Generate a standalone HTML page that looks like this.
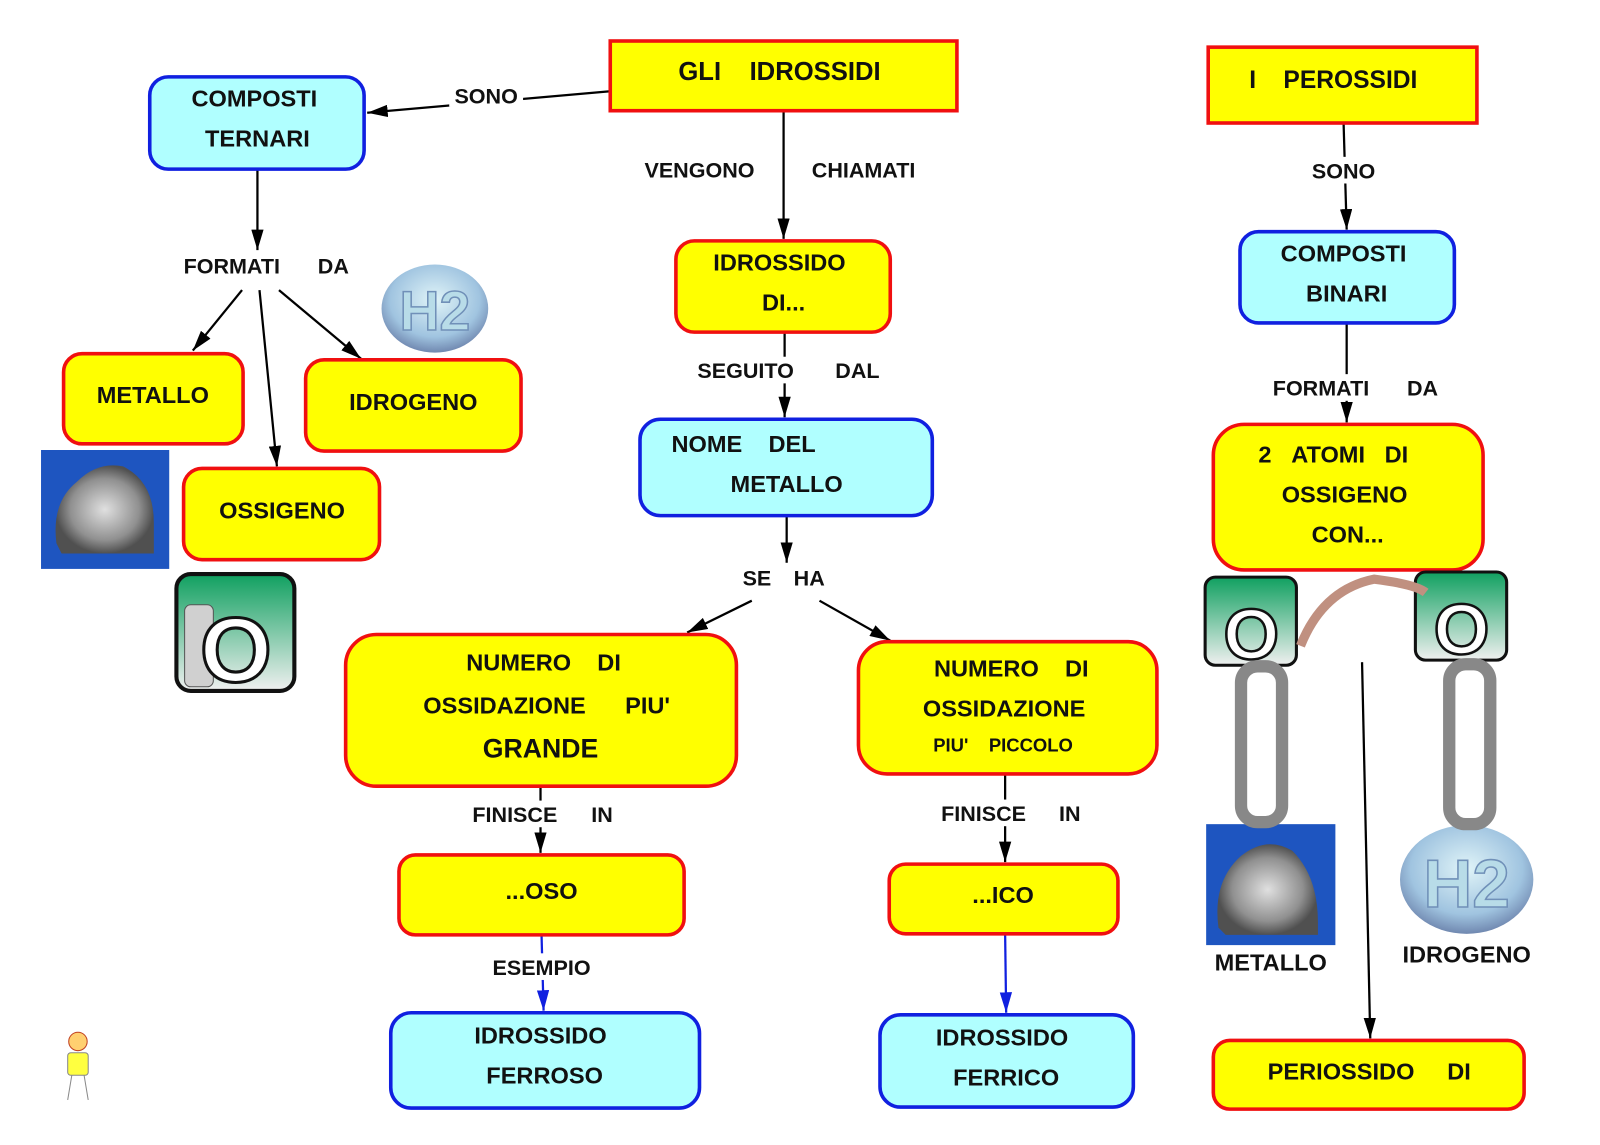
<!DOCTYPE html>
<html><head><meta charset="utf-8"><style>
html,body{margin:0;padding:0;background:#fff;}
svg{display:block;}
text{font-family:"Liberation Sans",sans-serif;font-weight:bold;fill:#111;text-anchor:middle;}
.y{fill:#ffff00;stroke:#f01010;stroke-width:3.5;}
.c{fill:#b0ffff;stroke:#1020e0;stroke-width:3.5;}
.l{stroke:#000;stroke-width:2.2;fill:none;}
.b{stroke:#1020e0;stroke-width:2.2;fill:none;}
</style></head><body>
<svg width="1600" height="1145" viewBox="0 0 1560 1117" preserveAspectRatio="none">
<defs>
<marker id="a" viewBox="0 0 20 12" refX="20" refY="6" markerWidth="20" markerHeight="12" markerUnits="userSpaceOnUse" orient="auto"><path d="M0,0 L20,6 L0,12z" fill="#000"/></marker>
<marker id="ab" viewBox="0 0 20 12" refX="20" refY="6" markerWidth="20" markerHeight="12" markerUnits="userSpaceOnUse" orient="auto"><path d="M0,0 L20,6 L0,12z" fill="#1020e0"/></marker>
<linearGradient id="g" x1="0" y1="0" x2="0" y2="1"><stop offset="0" stop-color="#10a060"/><stop offset="1" stop-color="#f0f0f0"/></linearGradient>
<radialGradient id="h" cx="0.5" cy="0.4" r="0.6"><stop offset="0" stop-color="#e0f4f8"/><stop offset="0.7" stop-color="#a0c4e0"/><stop offset="1" stop-color="#7088b0"/></radialGradient>
<radialGradient id="m" cx="0.5" cy="0.5" r="0.5"><stop offset="0" stop-color="#e0e0e0"/><stop offset="0.7" stop-color="#909090"/><stop offset="1" stop-color="#505050"/></radialGradient>
</defs>
<g class="l">
<line x1="595" y1="89" x2="358" y2="110" marker-end="url(#a)"/>
<line x1="764" y1="108" x2="764" y2="233" marker-end="url(#a)"/>
<line x1="251" y1="165" x2="251" y2="244" marker-end="url(#a)"/>
<line x1="236" y1="283" x2="188" y2="342" marker-end="url(#a)"/>
<line x1="253" y1="283" x2="270" y2="455" marker-end="url(#a)"/>
<line x1="272" y1="283" x2="352" y2="350" marker-end="url(#a)"/>
<line x1="765" y1="324" x2="765" y2="407" marker-end="url(#a)"/>
<line x1="767" y1="503" x2="767" y2="549" marker-end="url(#a)"/>
<line x1="733" y1="586" x2="670" y2="617" marker-end="url(#a)"/>
<line x1="799" y1="586" x2="868" y2="625" marker-end="url(#a)"/>
<line x1="527" y1="767" x2="527" y2="832" marker-end="url(#a)"/>
<line x1="980" y1="755" x2="980" y2="841" marker-end="url(#a)"/>
<line x1="1310" y1="120" x2="1313" y2="224" marker-end="url(#a)"/>
<line x1="1313" y1="315" x2="1313" y2="412" marker-end="url(#a)"/>
<line x1="1328" y1="646" x2="1336" y2="1013" marker-end="url(#a)"/>
</g>
<g class="b">
<line x1="528" y1="912" x2="530" y2="986" marker-end="url(#ab)"/>
<line x1="980" y1="911" x2="981" y2="988" marker-end="url(#ab)"/>
</g>
<g fill="#fff">
<rect x="438" y="82" width="72" height="22"/><rect x="612" y="152" width="140" height="26"/><rect x="780" y="152" width="120" height="26"/>
<rect x="170" y="246" width="180" height="26"/><rect x="670" y="348" width="195" height="26"/><rect x="716" y="550" width="90" height="26"/>
<rect x="450" y="781" width="150" height="26"/><rect x="908" y="780" width="145" height="26"/><rect x="472" y="930" width="110" height="26"/>
<rect x="1272" y="153" width="76" height="26"/><rect x="1232" y="365" width="175" height="26"/>
</g>
<g font-size="21">
<text x="474" y="101">SONO</text>
<text x="682" y="173">VENGONO</text><text x="842" y="173">CHIAMATI</text>
<text x="226" y="267">FORMATI</text><text x="325" y="267">DA</text>
<text x="727" y="369">SEGUITO</text><text x="836" y="369">DAL</text>
<text x="738" y="571">SE</text><text x="789" y="571">HA</text>
<text x="502" y="802">FINISCE</text><text x="587" y="802">IN</text>
<text x="959" y="801">FINISCE</text><text x="1043" y="801">IN</text>
<text x="528" y="951">ESEMPIO</text>
<text x="1310" y="174">SONO</text>
<text x="1288" y="386">FORMATI</text><text x="1387" y="386">DA</text>
</g>
<rect class="y" x="595" y="40" width="338" height="68"/>
<rect class="y" x="1178" y="46" width="262" height="74"/>
<rect class="c" x="146" y="75" width="209" height="90" rx="18"/>
<rect class="c" x="1209" y="226" width="209" height="89" rx="18"/>
<rect class="y" x="62" y="345" width="175" height="88" rx="18"/>
<rect class="y" x="298" y="351" width="210" height="89" rx="18"/>
<rect class="y" x="179" y="457" width="191" height="89" rx="18"/>
<rect class="y" x="659" y="235" width="209" height="89" rx="18"/>
<rect class="c" x="624" y="409" width="285" height="94" rx="20"/>
<rect class="y" x="1183" y="414" width="263" height="142" rx="30"/>
<rect class="y" x="337" y="619" width="381" height="148" rx="30"/>
<rect class="y" x="837" y="626" width="291" height="129" rx="28"/>
<rect class="y" x="389" y="834" width="278" height="78" rx="16"/>
<rect class="y" x="867" y="843" width="223" height="68" rx="16"/>
<rect class="c" x="381" y="988" width="301" height="93" rx="20"/>
<rect class="c" x="858" y="990" width="247" height="90" rx="20"/>
<rect class="y" x="1183" y="1015" width="303" height="67" rx="16"/>
<g font-size="23">
<text x="760" y="78" font-size="25">GLI&#160;&#160;&#160;&#160;IDROSSIDI</text>
<text x="1300" y="86" font-size="24">I&#160;&#160;&#160;&#160;PEROSSIDI</text>
<text x="248" y="104">COMPOSTI</text><text x="251" y="143">TERNARI</text>
<text x="1310" y="255">COMPOSTI</text><text x="1313" y="294">BINARI</text>
<text x="149" y="393">METALLO</text>
<text x="403" y="400">IDROGENO</text>
<text x="275" y="506">OSSIGENO</text>
<text x="760" y="264">IDROSSIDO</text><text x="764" y="303">DI...</text>
<text x="725" y="441">NOME&#160;&#160;&#160;&#160;DEL</text><text x="767" y="480">METALLO</text>
<text x="1300" y="451">2&#160;&#160;&#160;ATOMI&#160;&#160;&#160;DI</text><text x="1311" y="490">OSSIGENO</text><text x="1314" y="529">CON...</text>
<text x="530" y="654">NUMERO&#160;&#160;&#160;&#160;DI</text><text x="533" y="696">OSSIDAZIONE&#160;&#160;&#160;&#160;&#160;&#160;PIU'</text><text x="527" y="739" font-size="26">GRANDE</text>
<text x="986" y="660">NUMERO&#160;&#160;&#160;&#160;DI</text><text x="979" y="699">OSSIDAZIONE</text><text x="978" y="733" font-size="18">PIU'&#160;&#160;&#160;&#160;PICCOLO</text>
<text x="528" y="877">...OSO</text>
<text x="978" y="881">...ICO</text>
<text x="527" y="1018">IDROSSIDO</text><text x="531" y="1057">FERROSO</text>
<text x="977" y="1020">IDROSSIDO</text><text x="981" y="1059">FERRICO</text>
<text x="1335" y="1053">PERIOSSIDO&#160;&#160;&#160;&#160;&#160;DI</text>
<text x="1239" y="947">METALLO</text><text x="1430" y="939">IDROGENO</text>
</g>
<g>
<rect x="40" y="439" width="125" height="116" fill="#1e55c0"/>
<path d="M55,530 Q50,490 75,470 Q95,450 120,455 Q150,470 150,510 L150,540 L60,540z" fill="url(#m)"/>
<rect x="1176" y="804" width="126" height="118" fill="#1e55c0"/>
<path d="M1188,905 Q1182,860 1210,835 Q1235,815 1260,830 Q1285,855 1285,900 L1285,912 L1195,912z" fill="url(#m)"/>
<ellipse cx="424" cy="301" rx="52" ry="43" fill="url(#h)"/>
<text x="424" y="322" font-size="54" style="fill:#b8dce8;stroke:#7090b8;stroke-width:1.5">H2</text>
<ellipse cx="1430" cy="858" rx="65" ry="53" fill="url(#h)"/>
<text x="1430" y="885" font-size="66" style="fill:#b8dce8;stroke:#7090b8;stroke-width:1.5">H2</text>
<rect x="172" y="560" width="115" height="114" rx="14" fill="url(#g)" stroke="#111" stroke-width="4"/>
<rect x="180" y="590" width="28" height="80" rx="6" fill="#d0d0d0" stroke="#555"/>
<text x="230" y="665" font-size="90" style="fill:#fff;stroke:#111;stroke-width:3">O</text>
<rect x="1175" y="563" width="89" height="86" rx="10" fill="url(#g)" stroke="#111" stroke-width="3"/>
<text x="1220" y="643" font-size="70" style="fill:#fff;stroke:#111;stroke-width:2.5">O</text>
<rect x="1380" y="558" width="89" height="86" rx="10" fill="url(#g)" stroke="#111" stroke-width="3"/>
<text x="1425" y="638" font-size="70" style="fill:#fff;stroke:#111;stroke-width:2.5">O</text>
<path d="M1268,630 Q1290,575 1340,565 Q1380,570 1390,578" stroke="#c09080" stroke-width="9" fill="none"/>
<rect x="1210" y="650" width="40" height="152" rx="16" fill="none" stroke="#888" stroke-width="12"/>
<rect x="1413" y="648" width="40" height="156" rx="16" fill="none" stroke="#888" stroke-width="12"/>
<circle cx="76" cy="1016" r="9" fill="#ffd070" stroke="#c04020"/>
<rect x="66" y="1027" width="20" height="22" rx="3" fill="#ffff40" stroke="#888"/>
<line x1="70" y1="1049" x2="66" y2="1073" stroke="#888"/><line x1="82" y1="1049" x2="86" y2="1073" stroke="#888"/>
</g>
</svg>
</body></html>
